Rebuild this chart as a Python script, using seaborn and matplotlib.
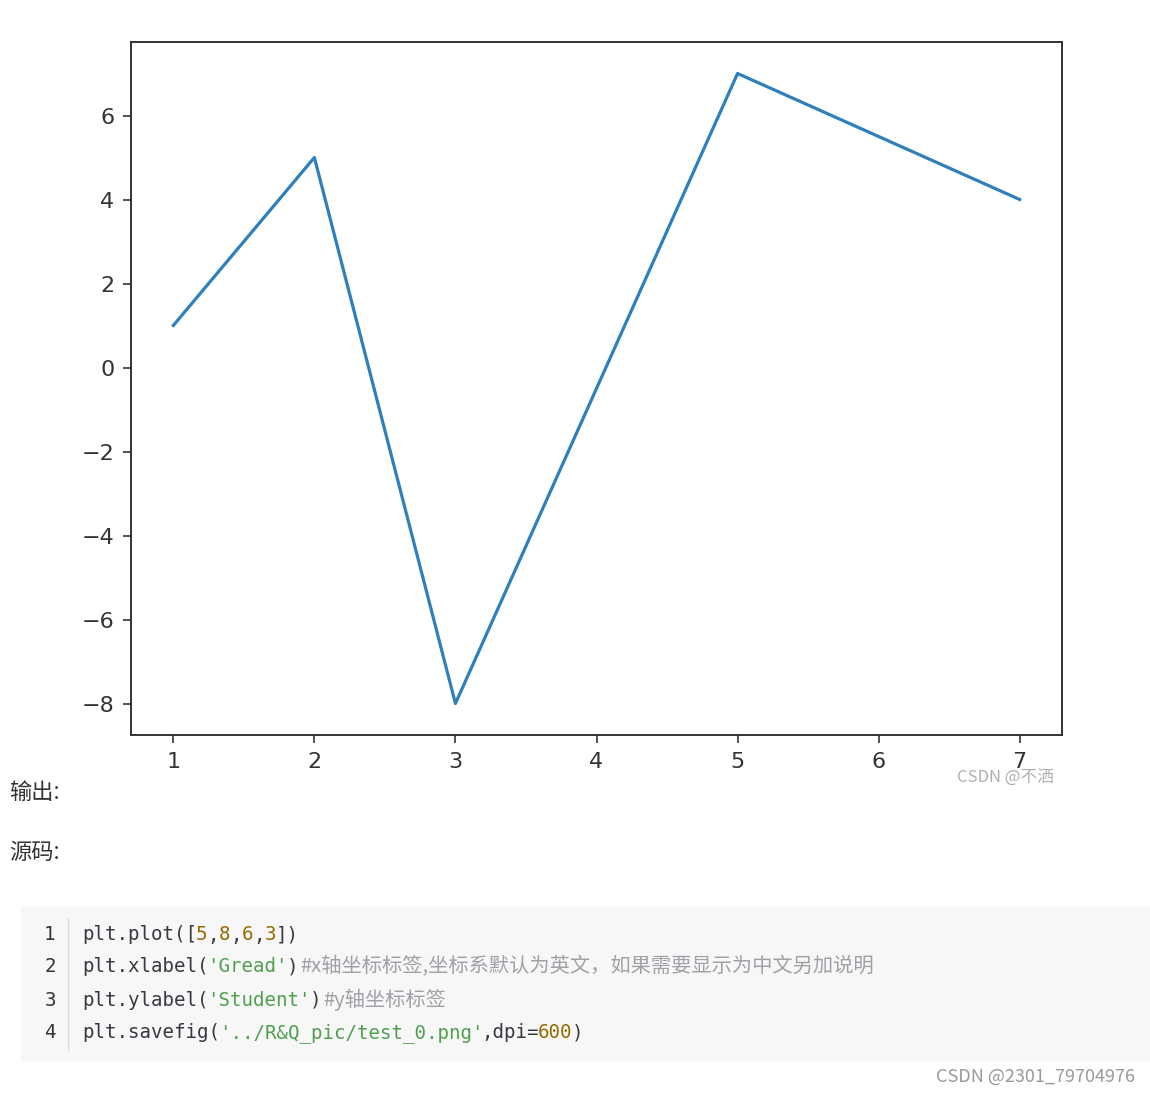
import matplotlib
matplotlib.use("Agg")
import matplotlib.pyplot as plt
import seaborn as sns
import pandas as pd
from matplotlib.patches import Rectangle
from matplotlib.lines import Line2D

# --- data ---
x_vals = [1, 2, 3, 5, 7]
y_vals = [1, 5, -8, 7, 4]
x_ticks = [1, 2, 3, 4, 5, 6, 7]
y_ticks = [-8, -6, -4, -2, 0, 2, 4, 6]

code_lines = [
    [("plt.plot([", "#383a42"), ("5", "#986801"), (",", "#383a42"), ("8", "#986801"), (",", "#383a42"),
     ("6", "#986801"), (",", "#383a42"), ("3", "#986801"), ("])", "#383a42")],
    [("plt.xlabel(", "#383a42"), ("'Gread'", "#50a14f"), (")", "#383a42")],
    [("plt.ylabel(", "#383a42"), ("'Student'", "#50a14f"), (")", "#383a42")],
    [("plt.savefig(", "#383a42"), ("'../R&Q_pic/test_0.png'", "#50a14f"), (",dpi=", "#383a42"),
     ("600", "#986801"), (")", "#383a42")],
]
comments = ["", "#x轴坐标标签,坐标系默认为英文，如果需要显示为中文另加说明", "#y轴坐标标签", ""]

W, H = 1150, 1096
CJK = ["Noto Sans CJK SC", "DejaVu Sans"]

fig = plt.figure(figsize=(W / 100, H / 100), dpi=100)
ax = fig.add_axes([131 / W, 1 - 735 / H, 931 / W, 693 / H])
df = pd.DataFrame({"x": x_vals, "y": y_vals})
sns.lineplot(data=df, x="x", y="y", ax=ax, color="#2f7fbd", linewidth=2.3)
ax.set_xticks(x_ticks)
ax.set_yticks(y_ticks)
ax.tick_params(labelsize=16, length=6, width=1.2, pad=6, colors="#333333")
ax.set_xlabel("")
ax.set_ylabel("")
for s in ax.spines.values():
    s.set_linewidth(1.4)
    s.set_color("#333333")


def fx(px):
    return px / W


def fy(py):
    return 1 - py / H


fig.text(fx(1005), fy(777), "CSDN @不洒", family=CJK, fontsize=12, color="#b0b0b0",
         ha="center", va="center")
fig.text(fx(9), fy(792), "输出:", family=CJK, fontsize=16, color="#333333", va="center")
fig.text(fx(9), fy(852), "源码:", family=CJK, fontsize=16, color="#333333", va="center")

# code block
fig.add_artist(Rectangle((fx(21), fy(1060)), (1150 - 21) / W, (1060 - 907) / H,
                         transform=fig.transFigure, color="#f7f7f8", zorder=0))
fig.add_artist(Line2D([fx(68), fx(68)], [fy(918), fy(1050)], transform=fig.transFigure,
                      color="#dddddd", linewidth=1))
char_w = 11.4
line_y = [935, 967, 1000, 1033]
for i, (parts, com, yy) in enumerate(zip(code_lines, comments, line_y)):
    fig.text(fx(50), fy(yy), str(i + 1), family="DejaVu Sans Mono", fontsize=13.8,
             color="#333333", ha="center", va="center")
    xpos = 82
    for txt, col in parts:
        fig.text(fx(xpos), fy(yy), txt, family="DejaVu Sans Mono", fontsize=13.8,
                 color=col, va="center")
        xpos += len(txt) * char_w
    if com:
        fig.text(fx(xpos + 2), fy(yy), com, family=CJK, fontsize=14.6, style="italic",
                 color="#a0a1a7", va="center")

fig.text(fx(1135), fy(1077), "CSDN @2301_79704976", family=CJK, fontsize=13,
         color="#999999", ha="right", va="center")

fig.savefig("out.png", dpi=100)
